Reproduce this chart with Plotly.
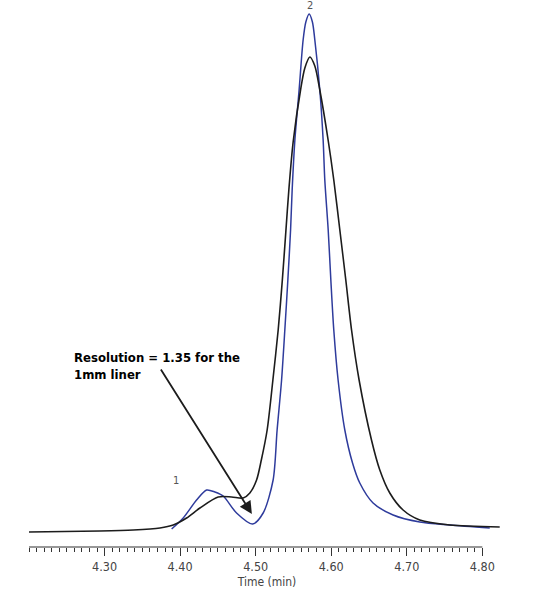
import numpy as np
import plotly.graph_objects as go

# chromatogram traces (time in min, signal in arbitrary units)
black_time = [4.2000, 4.2939, 4.3380, 4.3733, 4.3909, 4.4086, 4.4262, 4.4504, 4.4681, 4.4835,
              4.4923, 4.5012, 4.5075, 4.5152, 4.5228, 4.5298, 4.5353, 4.5399, 4.5439, 4.5496,
              4.5594, 4.5651, 4.5717, 4.5783, 4.5849, 4.5959, 4.6034, 4.6114, 4.6193, 4.6269,
              4.6369, 4.6533, 4.6643, 4.6775, 4.6951, 4.7172, 4.7569, 4.8230]
black_signal = [0, 1, 2, 4, 7, 14, 24, 35, 35, 34,
                39, 52, 72, 102, 152, 202, 252, 300, 342, 390,
                442, 464, 475, 466, 442, 392, 352, 302, 252, 202,
                152, 92, 62, 39, 22, 12, 7, 5]

blue_time = [4.3888, 4.4041, 4.4218, 4.4351, 4.4460, 4.4570, 4.4747, 4.4959, 4.5099, 4.5231,
             4.5284, 4.5343, 4.5386, 4.5426, 4.5462, 4.5483, 4.5519, 4.5575, 4.5628, 4.5664,
             4.5708, 4.5751, 4.5783, 4.5849, 4.5893, 4.5915, 4.5960, 4.5995, 4.6034, 4.6091,
             4.6180, 4.6282, 4.6378, 4.6554, 4.6819, 4.7172, 4.7569, 4.8098]
blue_signal = [3, 14, 32, 42, 40, 36, 19, 8, 19, 52,
               102, 152, 202, 252, 302, 342, 392, 442, 492, 510,
               518, 510, 492, 442, 392, 352, 302, 252, 202, 152,
               102, 69, 49, 29, 17, 10, 7, 4]

major_ticks = [4.2, 4.3, 4.4, 4.5, 4.6, 4.7, 4.8]
major_labels = ["", "4.30", "4.40", "4.50", "4.60", "4.70", "4.80"]
minor_ticks = np.round(np.arange(4.20, 4.805, 0.01), 2).tolist()

font_narrow = "Liberation Sans Narrow, DejaVu Sans Condensed, sans-serif"

fig = go.Figure()
fig.add_trace(go.Scatter(x=blue_time, y=blue_signal, mode="lines",
                         line=dict(color="#2e3b9c", width=1.5, shape="spline", smoothing=0.8),
                         showlegend=False))
fig.add_trace(go.Scatter(x=black_time, y=black_signal, mode="lines",
                         line=dict(color="#1c1c1c", width=1.6, shape="spline", smoothing=0.8),
                         showlegend=False))

# axis line only up to 4.80
fig.add_shape(type="line", xref="x", yref="paper", x0=4.2, x1=4.8, y0=0, y1=0,
              line=dict(color="#333333", width=1.2))

# peak numbers
fig.add_annotation(x=4.394, y=52, text="1", showarrow=False,
                   font=dict(family=font_narrow, size=11, color="#555555"))
fig.add_annotation(x=4.5717, y=527, text="2", showarrow=False,
                   font=dict(family=font_narrow, size=11, color="#555555"))

# resolution note + arrow
fig.add_annotation(x=4.2569, y=184, xanchor="left", yanchor="top", align="left",
                   text="<b>Resolution = 1.35 for the<br>1mm liner</b>", showarrow=False,
                   font=dict(family=font_narrow, size=13, color="#000000"))
fig.add_annotation(x=4.495, y=18, ax=4.3733, ay=164, axref="x", ayref="y",
                   text="", showarrow=True, arrowhead=2, arrowsize=1.4, arrowwidth=1.8,
                   arrowcolor="#1c1c1c")

fig.update_layout(
    width=540, height=590,
    margin=dict(l=29, r=35, t=0, b=43),
    plot_bgcolor="white", paper_bgcolor="white",
    xaxis=dict(
        range=[4.2, 4.83], automargin=False,
        tickvals=major_ticks, ticktext=major_labels,
        ticks="outside", ticklen=8, tickwidth=1, tickcolor="#333333",
        minor=dict(tickvals=minor_ticks, ticks="outside", ticklen=4, tickwidth=1,
                   tickcolor="#333333", showgrid=False),
        showline=False, showgrid=False, zeroline=False,
        tickfont=dict(family=font_narrow, size=12.5, color="#444444"),
        title=dict(text="Time (min)", standoff=4,
                   font=dict(family=font_narrow, size=12, color="#444444")),
    ),
    yaxis=dict(range=[-15, 532], visible=False, automargin=False),
)

# drop the page's default body margin so the figure sits at the window corner
fig.write_html("out.html", config={"displayModeBar": False},
               post_script="document.body.style.margin='0';")
